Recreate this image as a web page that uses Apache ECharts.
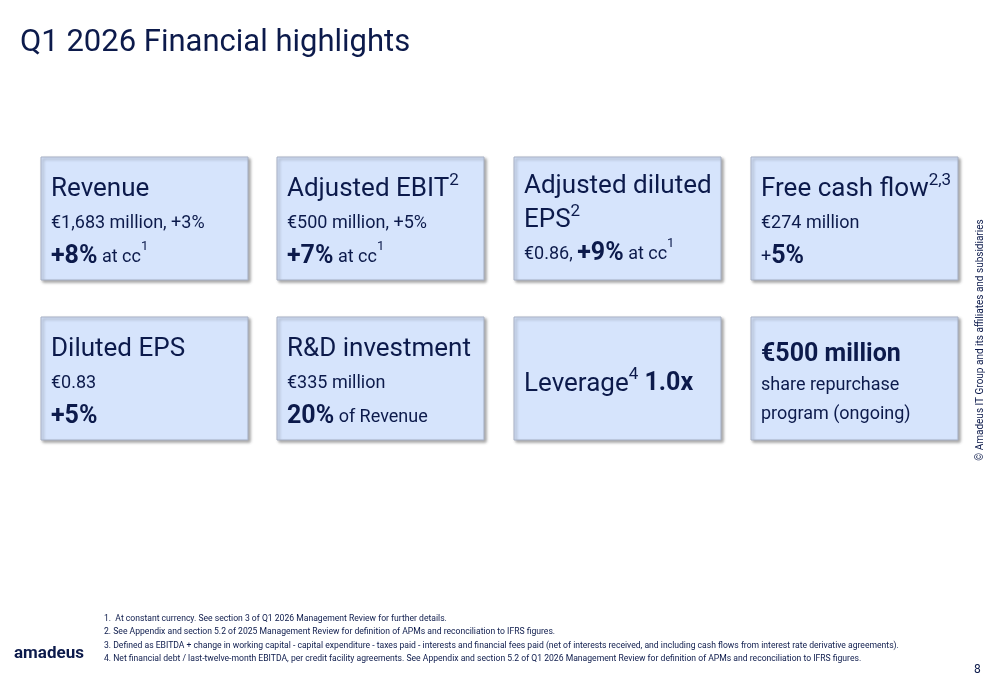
<!DOCTYPE html>
<html><head><meta charset="utf-8">
<script src="https://cdn.jsdelivr.net/npm/echarts@6/dist/echarts.min.js"></script>
<style>html,body{margin:0;padding:0;background:#fff}#c{width:1000px;height:685px}</style>
</head><body><div id="c"></div>
<script>
const pageTitle = 'Q1 2026 Financial highlights';
// card text lines, rich-text tokens
const cardLines = [
  ['{t|Revenue}', '{m|€1,683 million, +3%}', '{b|+8%}{m| at cc}{s|1}'],
  ['{t|Adjusted EBIT}{st|2}', '{m|€500 million, +5%}', '{b|+7%}{m| at cc}{s|1}'],
  ['{t|Adjusted diluted}', '{t|EPS}{st|2}', '{m|€0.86, }{b|+9%}{m| at cc}{s|1}'],
  ['{t|Free cash flow}{st|2,3}', '{m|€274 million}', '{m|+}{b|5%}'],
  ['{t|Diluted EPS}', '{m|€0.83}', '{b|+5%}'],
  ['{t|R&D investment}', '{m|€335 million}', '{b|20%}{m| of Revenue}'],
  ['{t|Leverage}{st|4}{bt| 1.0x}'],
  ['{b2|€500 million}', '{m2|share repurchase}', '{m2|program (ongoing)}']
];
const cardTops = [179, 179, 176, 179, 339, 339, 373, 346];
const footnotes = [
  '1.  At constant currency. See section 3 of Q1 2026 Management Review for further details.',
  '2. See Appendix and section 5.2 of 2025 Management Review for definition of APMs and reconciliation to IFRS figures.',
  '3. Defined as EBITDA + change in working capital - capital expenditure - taxes paid - interests and financial fees paid (net of interests received, and including cash flows from interest rate derivative agreements).',
  '4. Net financial debt / last-twelve-month EBITDA, per credit facility agreements. See Appendix and section 5.2 of Q1 2026 Management Review for definition of APMs and reconciliation to IFRS figures.'
];

const navy = '#0c1a4b';
const font = 'Roboto, "Liberation Sans", sans-serif';
const colX = [41, 277, 514, 751];
const rowY = [157, 317];
const cardW = 207, cardH = 123;

const rich = {
  t: { fontSize: 26, color: navy, fontFamily: font, lineHeight: 34 },
  st: { fontSize: 17, color: navy, fontFamily: font, verticalAlign: 'top', lineHeight: 34, padding: [0, 0, 8, 0] },
  m: { fontSize: 18, color: navy, fontFamily: font, lineHeight: 34 },
  s: { fontSize: 13, color: navy, fontFamily: font, verticalAlign: 'top', lineHeight: 34, padding: [0, 0, 10, 0] },
  b: { fontSize: 25, fontWeight: 'bold', color: navy, fontFamily: font, lineHeight: 34 },
  bt: { fontSize: 25, fontWeight: 'bold', color: navy, fontFamily: font, lineHeight: 36 },
  b2: { fontSize: 25, fontWeight: 'bold', color: navy, fontFamily: font, lineHeight: 32 },
  m2: { fontSize: 18, color: navy, fontFamily: font, lineHeight: 29 }
};

const graphic = [];
graphic.push({ type: 'text', left: 20, top: 28, style: { text: pageTitle, fontSize: 31, fill: navy, fontFamily: font } });

cardLines.forEach((lines, i) => {
  const x = colX[i % 4], y = rowY[Math.floor(i / 4)];
  graphic.push({
    type: 'rect', shape: { x: x, y: y, width: cardW, height: cardH },
    style: { fill: '#d6e4fc', stroke: '#a7b0c4', lineWidth: 1, shadowBlur: 3, shadowOffsetX: 2, shadowOffsetY: 2, shadowColor: 'rgba(0,0,0,0.35)' }
  });
  graphic.push({
    type: 'text', x: x + 10, y: cardTops[i] - 7,
    style: { text: lines.join('\n'), rich: rich, fill: navy }
  });
});

footnotes.forEach((f, i) => {
  graphic.push({ type: 'text', x: 104, y: 614 + i * 13.5, style: { text: f, fontSize: 8.6, fill: navy, fontFamily: font } });
});
graphic.push({ type: 'text', x: 14, y: 645, style: { text: 'amadeus', fontSize: 17, fontWeight: 'bold', fill: navy, fontFamily: font } });
graphic.push({ type: 'text', x: 974, y: 664, style: { text: '8', fontSize: 12, fill: navy, fontFamily: font } });
graphic.push({
  type: 'text', x: 980, y: 340, rotation: Math.PI / 2,
  style: { text: '© Amadeus IT Group and its affiliates and subsidiaries', fontSize: 10, fill: navy, fontFamily: font, align: 'center', verticalAlign: 'middle' }
});

const chart = echarts.init(document.getElementById('c'));
chart.setOption({ backgroundColor: '#fff', animation: false, graphic: graphic });
</script></body></html>
